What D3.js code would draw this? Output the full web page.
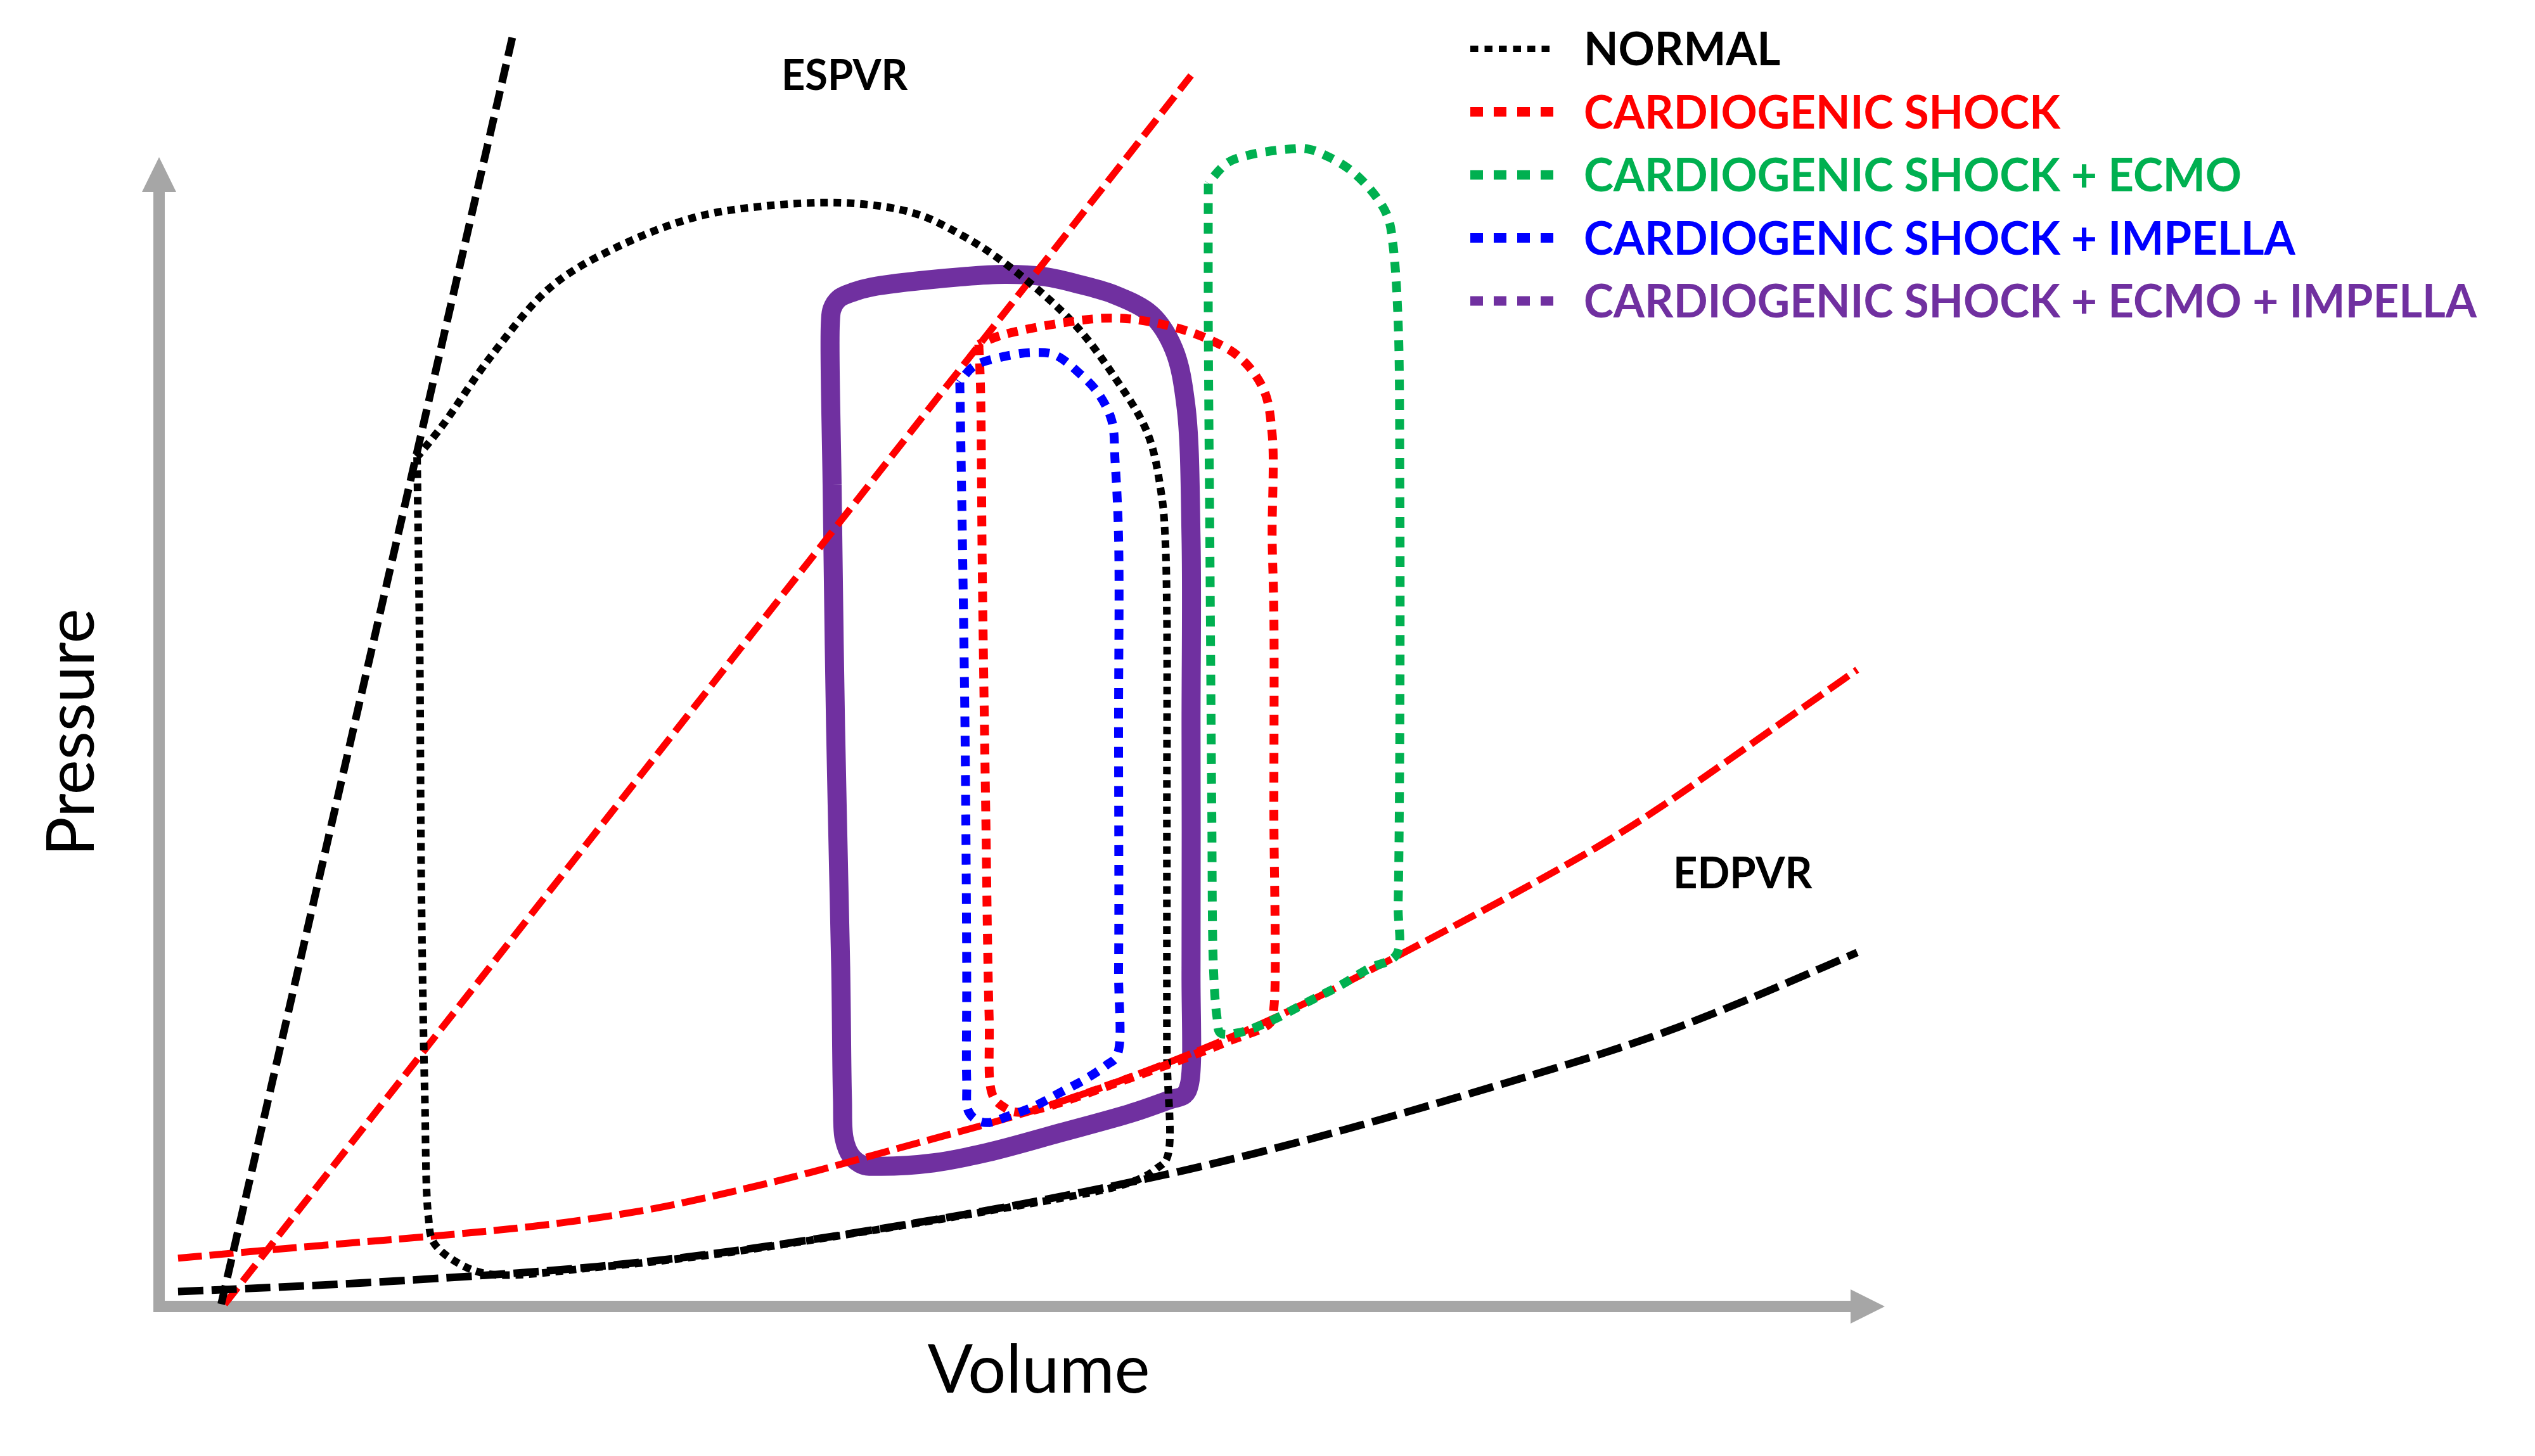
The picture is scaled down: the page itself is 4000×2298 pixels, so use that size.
<!DOCTYPE html>
<html>
<head>
<meta charset="utf-8">
<script src="https://cdn.jsdelivr.net/npm/d3@7"></script>
<style>
  html, body { margin: 0; padding: 0; background: #fff; }
  text { font-family: Lato, "Open Sans", sans-serif; }
</style>
</head>
<body>
<div id="chart"></div>
<script>
const W = 4000;
const H = 2298;

// volume / pressure in arbitrary units, 0..100 along each axis arrow
const espvrNormal = [[3.6, 0.2], [20.5, 110.6]];
const espvrShock = [[3.8, 0.2], [59.8, 107.1]];

const edpvrNormal = [[1.1, 1.3], [10.5, 1.9], [18.9, 2.7], [25.3, 3.4], [32.0, 4.5], [39.6, 6.2], [48.0, 8.3],
                     [56.5, 10.8], [64.2, 13.5], [71.9, 16.7], [79.5, 20.1], [87.7, 23.8], [98.4, 30.8]];
const edpvrShock = [[1.1, 4.2], [8.4, 5.2], [15.8, 6.1], [21.7, 6.9], [28.3, 8.3], [33.0, 9.9], [37.5, 11.5],
                    [43.8, 14.2], [50.2, 16.7], [56.5, 20.0], [64.2, 24.6], [71.3, 30.1], [78.3, 35.7],
                    [85.3, 41.5], [92.3, 49.0], [98.4, 55.4]];

const loopNormal = [[14.95, 73.9], [15.1, 57.5], [15.2, 36.0], [15.4, 18.1], [15.6, 7.9], [15.9, 5.6], [17.3, 3.8],
                    [19.2, 2.8], [25.3, 3.4], [32.0, 4.5], [39.6, 6.2], [48.0, 8.3], [55.4, 10.4], [57.1, 11.3],
                    [57.8, 12.0], [58.4, 12.9], [58.4, 22.4], [58.4, 43.4], [58.4, 60.3], [58.3, 66.9], [58.1, 70.5],
                    [57.3, 75.9], [55.4, 80.8], [52.9, 85.7], [48.9, 90.9], [46.4, 93.3], [43.8, 95.1], [40.0, 96.0],
                    [34.8, 95.7], [30.9, 94.7], [26.3, 92.0], [22.7, 88.7], [19.2, 82.6], [16.4, 76.6], [14.95, 73.9]];

const loopShock = [[47.5, 83.7], [47.6, 80.0], [47.7, 64.5], [47.9, 43.4], [48.1, 25.2], [48.3, 18.4], [48.9, 17.4],
                   [49.8, 16.9], [56.5, 20.0], [62.0, 23.1], [64.4, 24.7], [64.6, 26.0], [64.6, 43.4], [64.6, 60.3],
                   [64.5, 66.9], [64.5, 75.9], [64.0, 79.8], [62.6, 82.6], [60.6, 84.3], [58.0, 85.5], [55.4, 86.0],
                   [52.9, 85.7], [48.8, 84.5], [47.5, 83.7]];

const loopEcmo = [[60.8, 97.7], [60.8, 85.6], [60.9, 64.5], [61.0, 43.4], [61.1, 29.4], [61.3, 25.2], [61.5, 23.8],
                  [62.5, 23.8], [64.2, 24.7], [66.7, 26.6], [68.4, 27.9], [70.1, 29.4], [71.7, 30.6], [71.8, 35.0],
                  [71.9, 50.5], [71.9, 71.5], [71.8, 85.7], [71.5, 92.4], [71.2, 94.8], [70.4, 96.8], [69.1, 98.8],
                  [67.8, 100.0], [66.6, 100.7], [65.5, 100.7], [63.2, 100.2], [61.9, 99.5], [60.8, 97.7]];

const loopImpella = [[46.4, 80.4], [46.5, 71.5], [46.7, 50.5], [46.8, 29.4], [46.8, 19.6], [46.9, 17.0], [47.4, 16.2],
                     [48.1, 16.0], [49.1, 16.5], [50.7, 17.4], [52.2, 18.6], [53.7, 19.8], [54.9, 21.0], [55.5, 21.8],
                     [55.6, 29.4], [55.6, 50.5], [55.6, 66.9], [55.4, 73.5], [55.2, 77.1], [54.4, 79.5], [53.4, 81.1],
                     [51.9, 82.8], [50.6, 83.0], [48.8, 82.6], [47.2, 81.8], [46.4, 80.4]];

const loopEcmoImpella = [[38.9, 85.6], [39.0, 71.5], [39.2, 50.5], [39.5, 29.4], [39.6, 18.1], [39.7, 14.6], [40.1, 13.1],
                         [40.8, 12.3], [41.7, 12.2], [44.9, 12.5], [48.0, 13.4], [52.2, 15.1], [56.5, 16.9], [58.6, 18.0],
                         [59.4, 18.4], [59.7, 19.3], [59.8, 29.4], [59.8, 50.5], [59.8, 66.9], [59.5, 78.4], [58.8, 83.3],
                         [57.5, 86.3], [55.4, 88.0], [53.4, 88.9], [51.3, 89.6], [49.0, 89.8], [45.1, 89.4], [41.3, 88.7],
                         [40.3, 88.3], [39.4, 87.7], [39.0, 86.8]];

const legendNames = ["NORMAL", "CARDIOGENIC SHOCK", "CARDIOGENIC SHOCK + ECMO", "CARDIOGENIC SHOCK + IMPELLA",
                     "CARDIOGENIC SHOCK + ECMO + IMPELLA"];
const legendColors = ["#000000", "#ff0000", "#00b050", "#0000ff", "#7030a0"];

const axisGray = "#a6a6a6";

const svg = d3.select("#chart").append("svg")
    .attr("width", W)
    .attr("height", H);

svg.append("rect").attr("width", W).attr("height", H).attr("fill", "#fff");

const x = d3.scaleLinear().domain([0, 100]).range([251, 2974]);
const y = d3.scaleLinear().domain([0, 100]).range([2062, 248]);

const straight = d3.line().x(d => x(d[0])).y(d => y(d[1]));
const smooth = d3.line().x(d => x(d[0])).y(d => y(d[1])).curve(d3.curveCatmullRom.alpha(0.5));
const soft = d3.line().x(d => x(d[0])).y(d => y(d[1])).curve(d3.curveBasis);
const closedSmooth = d3.line().x(d => x(d[0])).y(d => y(d[1])).curve(d3.curveCatmullRomClosed.alpha(0.5));

// axes with arrow heads
const ax = svg.append("g");
ax.append("line")
    .attr("x1", x(0)).attr("x2", x(0))
    .attr("y1", y(0) + 9).attr("y2", y(100) + 50)
    .attr("stroke", axisGray).attr("stroke-width", 18);
ax.append("path")
    .attr("d", `M${x(0)},${y(100)} L${x(0) - 27},${y(100) + 55} L${x(0) + 27},${y(100) + 55} Z`)
    .attr("fill", axisGray);
ax.append("line")
    .attr("x1", x(0) - 9).attr("x2", x(100) - 50)
    .attr("y1", y(0)).attr("y2", y(0))
    .attr("stroke", axisGray).attr("stroke-width", 18);
ax.append("path")
    .attr("d", `M${x(100)},${y(0)} L${x(100) - 54},${y(0) - 27} L${x(100) - 54},${y(0) + 27} Z`)
    .attr("fill", axisGray);

// purple loop sits underneath the rest
svg.append("path")
    .attr("d", closedSmooth(loopEcmoImpella))
    .attr("fill", "none")
    .attr("stroke", "#7030a0")
    .attr("stroke-width", 30)
    .attr("stroke-linejoin", "round");

// pressure-volume relations
svg.append("path").attr("d", soft(edpvrShock))
    .attr("fill", "none").attr("stroke", "#ff0000").attr("stroke-width", 11).attr("stroke-dasharray", "38 12");
svg.append("path").attr("d", straight(espvrShock))
    .attr("fill", "none").attr("stroke", "#ff0000").attr("stroke-width", 11).attr("stroke-dasharray", "33 13");
svg.append("path").attr("d", soft(edpvrNormal))
    .attr("fill", "none").attr("stroke", "#000").attr("stroke-width", 12).attr("stroke-dasharray", "40 13");
svg.append("path").attr("d", straight(espvrNormal))
    .attr("fill", "none").attr("stroke", "#000").attr("stroke-width", 12).attr("stroke-dasharray", "30 13");

// dotted loops
const loops = [
    {data: loopNormal, color: "#000000", w: 12, dash: "12 9"},
    {data: loopShock, color: "#ff0000", w: 14, dash: "17 13"},
    {data: loopEcmo, color: "#00b050", w: 14, dash: "17 14"},
    {data: loopImpella, color: "#0000ff", w: 14, dash: "17 14"}
];
svg.selectAll("path.loop")
    .data(loops)
    .enter()
    .append("path")
    .attr("class", "loop")
    .attr("d", d => smooth(d.data))
    .attr("fill", "none")
    .attr("stroke", d => d.color)
    .attr("stroke-width", d => d.w)
    .attr("stroke-dasharray", d => d.dash);

// axis titles
svg.append("text")
    .attr("transform", "translate(148,1156) rotate(-90)")
    .attr("text-anchor", "middle")
    .attr("font-size", 104)
    .attr("fill", "#000")
    .text("Pressure");
svg.append("text")
    .attr("x", 1639).attr("y", 2198)
    .attr("text-anchor", "middle")
    .attr("font-size", 106)
    .attr("fill", "#000")
    .text("Volume");

// curve labels
const espvrLabel = svg.append("text")
    .attr("x", 1233).attr("y", 142)
    .attr("font-size", 66).attr("font-weight", "bold")
    .text("ESPVR");
const edpvrLabel = svg.append("text")
    .attr("x", 2640).attr("y", 1402)
    .attr("font-size", 68).attr("font-weight", "bold")
    .text("EDPVR");

// legend
const legend = svg.append("g");
const rowY = d3.scaleLinear().domain([0, 4]).range([77, 475]);
legend.selectAll("line")
    .data(legendColors)
    .enter()
    .append("line")
    .attr("x1", 2320).attr("x2", 2453)
    .attr("y1", (d, i) => rowY(i)).attr("y2", (d, i) => rowY(i))
    .attr("stroke", d => d)
    .attr("stroke-width", (d, i) => i === 0 ? 10 : 15)
    .attr("stroke-dasharray", (d, i) => i === 0 ? "12.5 10" : "20 17");

const legendTexts = legend.selectAll("text")
    .data(legendNames)
    .enter()
    .append("text")
    .attr("x", 2499)
    .attr("y", (d, i) => rowY(i) + 26)
    .attr("font-size", 72)
    .attr("font-weight", "bold")
    .attr("fill", (d, i) => legendColors[i])
    .text(d => d);

// the reference font is narrower; squeeze to the measured width of the longest entry
const longest = legendTexts.nodes()[4].getComputedTextLength();
const k = Math.min(1, 1409 / longest);
legendTexts.each(function () {
    const len = this.getComputedTextLength();
    d3.select(this).attr("textLength", len * k).attr("lengthAdjust", "spacingAndGlyphs");
});
[espvrLabel, edpvrLabel].forEach(t => {
    const len = t.node().getComputedTextLength();
    t.attr("textLength", len * k).attr("lengthAdjust", "spacingAndGlyphs");
});
</script>
</body>
</html>
